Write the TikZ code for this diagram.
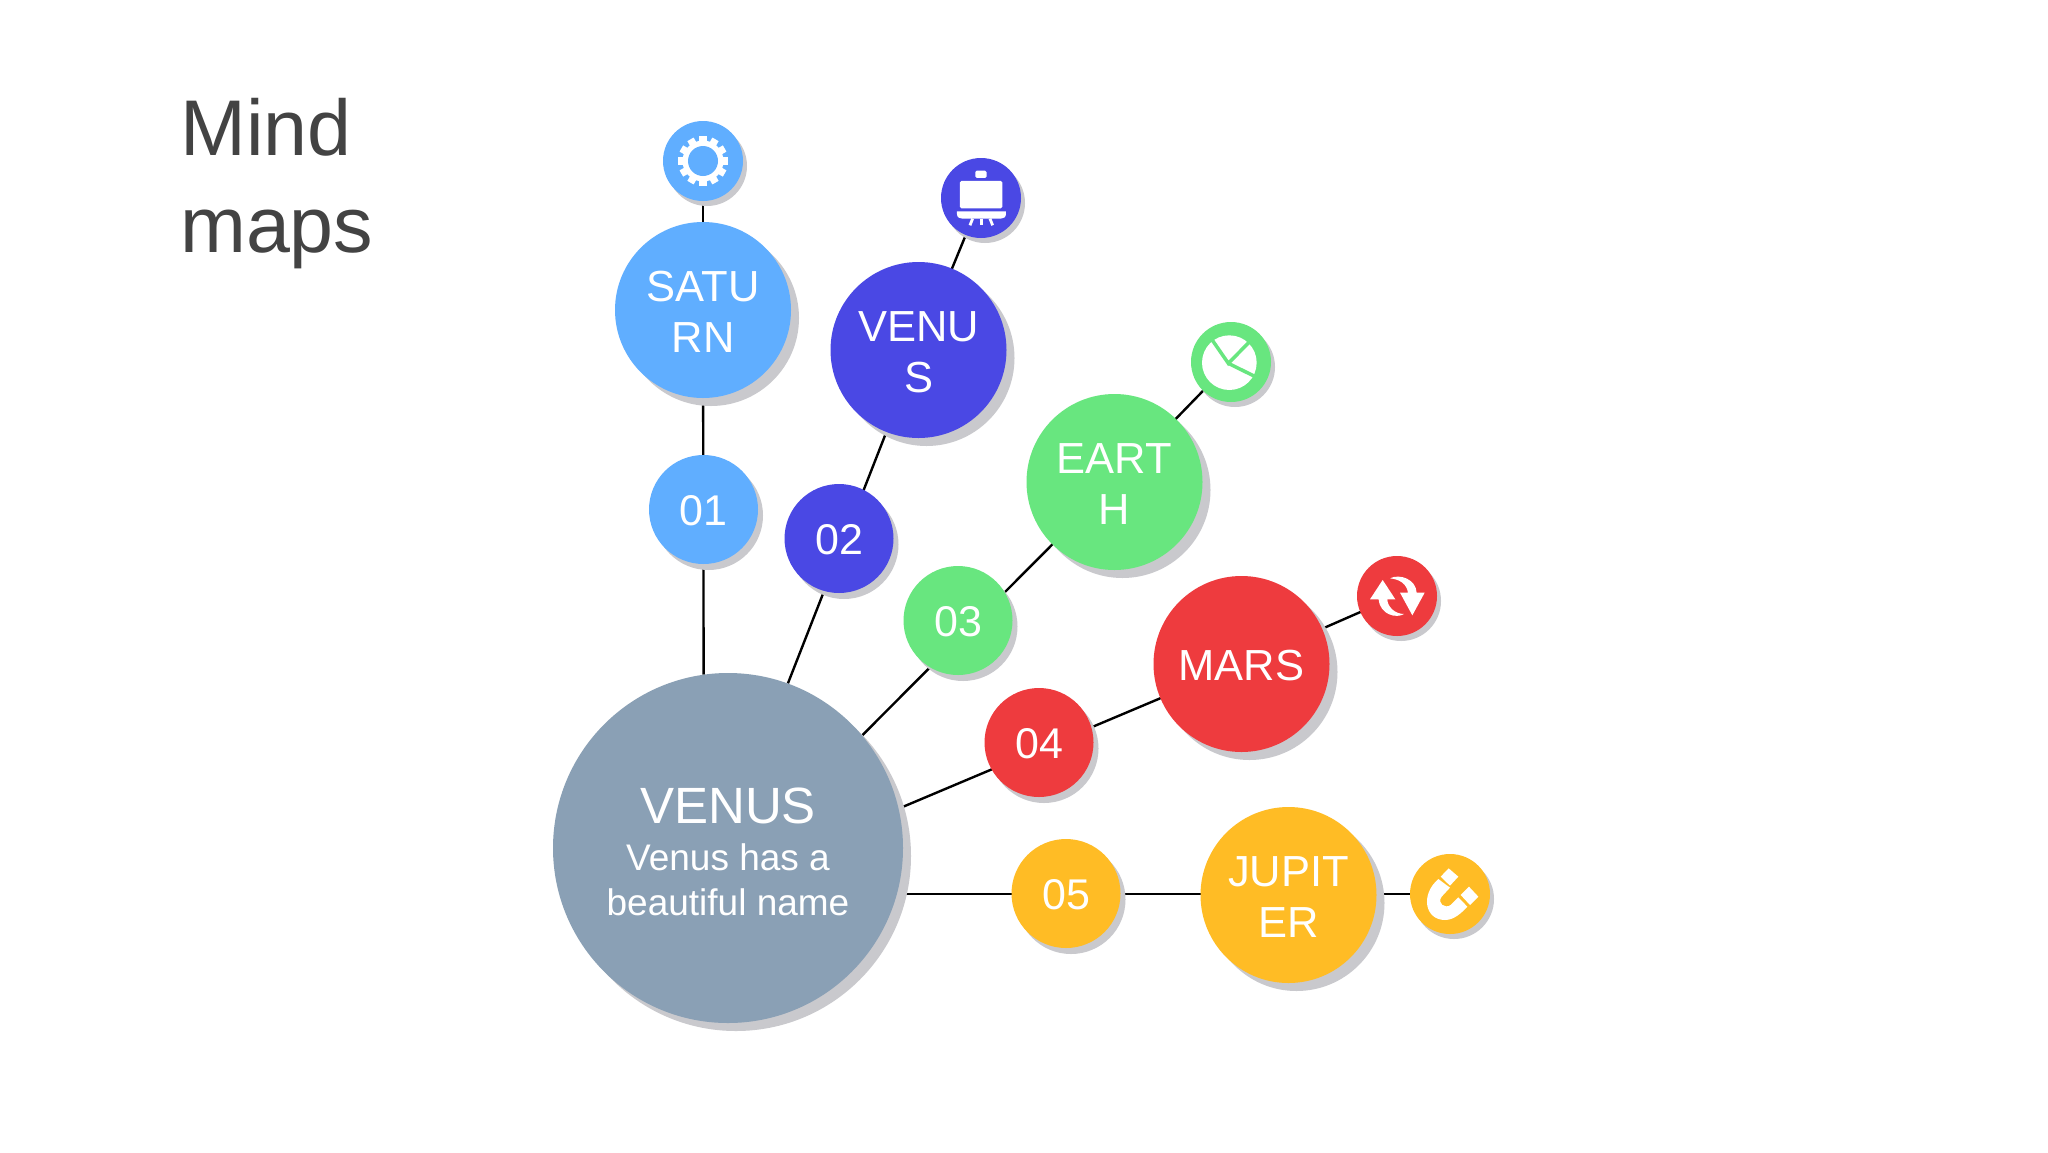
\documentclass[tikz,border=0pt]{standalone}
\usepackage{fontspec}
\setmainfont{Liberation Sans}
\usetikzlibrary{shadows}
\definecolor{csat}{HTML}{60AEFF}
\definecolor{cven}{HTML}{4A48E4}
\definecolor{cear}{HTML}{68E67F}
\definecolor{cmar}{HTML}{EE3B3E}
\definecolor{cjup}{HTML}{FFBC25}
\definecolor{chub}{HTML}{8AA0B5}
\definecolor{cshad}{HTML}{C9C9CD}
\definecolor{ctitle}{HTML}{434343}
\newcommand{\lowerplanet}{\rule{0pt}{34pt}}
\newcommand{\lowernum}{\rule{0pt}{33pt}}
\newcommand{\lowerhub}{\rule{0pt}{44pt}}
\pgfdeclarelayer{bg}
\pgfsetlayers{bg,main}
\tikzset{
  disc/.style={circle,inner sep=0pt,text=white,align=center},
  hubdisc/.style={disc,minimum size=350pt,fill=chub,font=\fontsize{37}{45}\selectfont,general shadow={fill=cshad,shadow xshift=8pt,shadow yshift=-8pt}},
  planet/.style={disc,minimum size=176pt,fill=#1,font=\fontsize{43.5}{51}\selectfont,general shadow={fill=cshad,shadow xshift=8pt,shadow yshift=-8pt}},
  numdisc/.style={disc,minimum size=109pt,fill=#1,font=\fontsize{43}{50}\selectfont,general shadow={fill=cshad,shadow xshift=5pt,shadow yshift=-6pt}},
  icondisc/.style={disc,minimum size=80pt,fill=#1,general shadow={fill=cshad,shadow xshift=4pt,shadow yshift=-5pt}},
  link/.style={draw=black,line width=2.4pt}
}
\begin{document}
\begin{tikzpicture}[x=1pt,y=-1pt]
\useasboundingbox (0,0) rectangle (2048,1152);

\node[anchor=north west,inner sep=0pt,text=ctitle,align=left,font=\fontsize{79}{97}\selectfont] (title) at (180,98.5) {Mind\\maps};

\node[hubdisc] (hub) at (728,848) {\lowerhub{\fontsize{51}{60}\selectfont VENUS}\\[2pt]Venus has a\\beautiful name};

\node[planet=csat] (saturn) at (703,310) {\lowerplanet SATU\\RN};
\node[planet=cven] (venus) at (918.5,350) {\lowerplanet VENU\\S};
\node[planet=cear] (earth) at (1114.5,482) {\lowerplanet EART\\H};
\node[planet=cmar] (mars) at (1241.5,664) {\lowerplanet MARS};
\node[planet=cjup] (jupiter) at (1288.5,895) {\lowerplanet JUPIT\\ER};

\node[numdisc=csat] (n1) at (703.5,509.5) {\lowernum 01};
\node[numdisc=cven] (n2) at (839,538.5) {\lowernum 02};
\node[numdisc=cear] (n3) at (958,620.5) {\lowernum 03};
\node[numdisc=cmar] (n4) at (1039,742.5) {\lowernum 04};
\node[numdisc=cjup] (n5) at (1066,893.5) {\lowernum 05};

\node[icondisc=csat] (i1) at (703,161) {};
\node[icondisc=cven] (i2) at (981,198) {};
\node[icondisc=cear] (i3) at (1231,362) {};
\node[icondisc=cmar] (i4) at (1397,596) {};
\node[icondisc=cjup] (i5) at (1450,894) {};

\begin{pgfonlayer}{bg}
\fill[white] (0,0) rectangle (2048,1152);
\draw[link] (hub.98.2) -- (saturn.center);
\draw[link] (saturn.center) -- (i1.center);
\draw[link] (hub.70) -- (venus.center);
\draw[link] (venus.center) -- (i2.center);
\draw[link] (hub.40) -- (earth.center);
\draw[link] (earth.center) -- (i3.center);
\draw[link] (hub.13) -- (mars.center);
\draw[link] (mars.center) -- (i4.center);
\draw[link] (hub.center |- i5.center) -- (i5.center);
\end{pgfonlayer}

% gear
\begin{scope}[shift={(i1.center)}]
\foreach \a in {0,30,...,330}{\fill[rotate=\a,white] (-3.6,-25) rectangle (3.6,-15);}
\fill[white] (0,0) circle[radius=20.5];
\fill[csat] (0,0) circle[radius=15];
\end{scope}

% easel
\begin{scope}[shift={(640,100)},x=0.3333pt,y=-0.3333pt]
\fill[white,rounded corners=1.5pt] (1006,212) rectangle (1040,234);
\fill[white,rounded corners=1.5pt] (960,243) rectangle (1087,325);
\fill[white] (951,334) -- (1098,334) -- (1098,342) .. controls (1098,352) and (1090,356) .. (1082,356) -- (967,356) .. controls (959,356) and (951,352) .. (951,342) -- cycle;
\draw[white,line width=2.8pt] (998,356) -- (990,376);
\draw[white,line width=2.8pt] (1024,356) -- (1024,376);
\draw[white,line width=2.8pt] (1050,356) -- (1058,376);
\end{scope}

% pie
\begin{scope}[shift={(1170,300)},x=0.3333pt,y=-0.3333pt]
\fill[white] (178,188) circle[x radius=82pt/3,y radius=82pt/3];
\draw[cear,line width=3.5pt,line cap=round] (128,122) -- (175,190) -- (236,128);
\draw[cear,line width=3.5pt,line cap=round] (175,190) -- (252,228);
\end{scope}

% refresh
\begin{scope}[shift={(1340,540)},x=0.3333pt,y=-0.3333pt]
\fill[white] (128,120) -- (166,178) -- (142,178) .. controls (142,200) and (165,222) .. (192,222) .. controls (170,236) and (120,225) .. (116,178) -- (90,178) -- cycle;
\fill[white] (217,226) -- (180,158) -- (204,158) .. controls (200,132) and (180,118) .. (150,115) .. controls (180,100) and (228,118) .. (230,158) -- (254,158) -- cycle;
\end{scope}

% magnet
\begin{scope}[shift={(1395,840)},x=0.3333pt,y=-0.3333pt]
\fill[white] (161,85) -- (190,110) -- (165,137) -- (137,110) -- cycle;
\fill[white] (222,140) -- (250,170) -- (225,195) -- (197,165) -- cycle;
\fill[white] (130,117) .. controls (75,165) and (90,240) .. (150,240) .. controls (178,240) and (200,218) .. (217,200) -- (190,172) -- (167,195) .. controls (150,207) and (125,190) .. (140,170) -- (165,143) -- cycle;
\end{scope}
\end{tikzpicture}
\end{document}
